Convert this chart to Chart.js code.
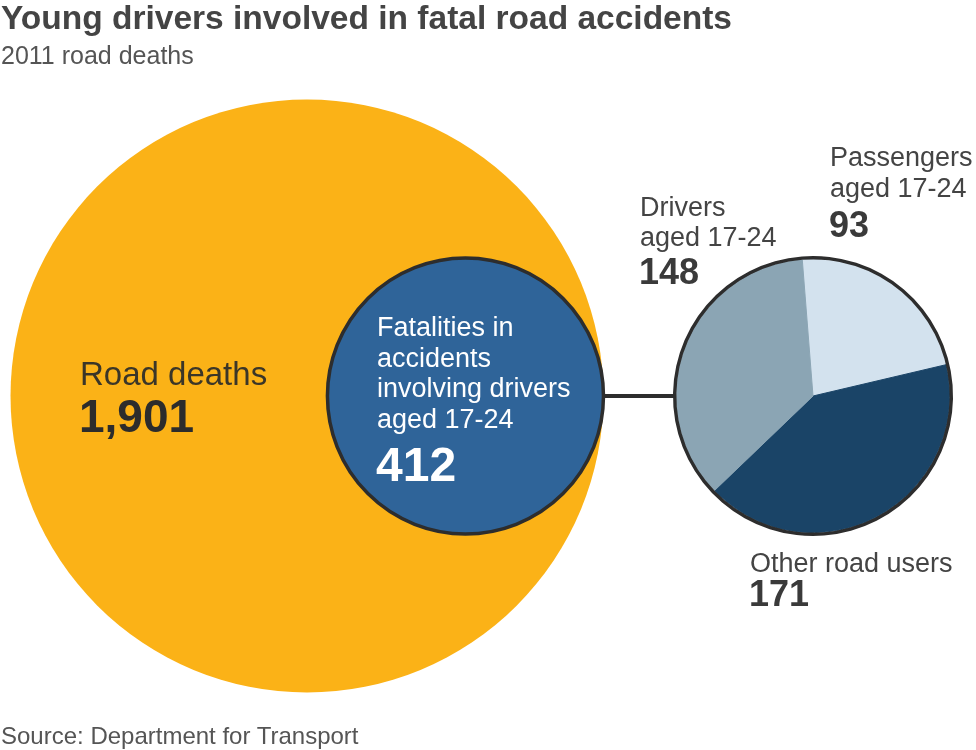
<!DOCTYPE html>
<html>
<head>
<meta charset="utf-8">
<title>Young drivers involved in fatal road accidents</title>
<script src="https://cdn.jsdelivr.net/npm/chart.js@4.4.1/dist/chart.umd.min.js"></script>
<style>
body { margin: 0; background: #fff; font-family: "Liberation Sans", Arial, sans-serif; }
#page { position: relative; width: 976px; height: 750px; overflow: hidden; }
#venn { position: absolute; left: 0; top: 0; }
#pieBox { position: absolute; }
.txt { position: absolute; white-space: nowrap; color: #444; }
.num { font-weight: bold; color: #3a3a3a; }
</style>
</head>
<body>
<div id="page">
  <canvas id="venn" width="976" height="750"></canvas>
  <div id="pieBox"><canvas id="pie" width="340" height="340"></canvas></div>

  <div class="txt" style="left:1px;top:1px;font-size:33.5px;line-height:33px;font-weight:bold;color:#444">Young drivers involved in fatal road accidents</div>
  <div class="txt" style="left:1px;top:43px;font-size:25px;line-height:25px;color:#555">2011 road deaths</div>

  <div class="txt" style="left:80px;top:357px;font-size:33px;line-height:33px;color:#3b3628">Road deaths</div>
  <div class="txt num" style="left:79px;top:393px;font-size:46px;line-height:46px;color:#2c2c2c">1,901</div>

  <div class="txt" style="left:377px;top:312px;font-size:27px;line-height:30.5px;color:#fff">Fatalities in<br>accidents<br>involving drivers<br>aged 17-24</div>
  <div class="txt num" style="left:376px;top:441px;font-size:48px;line-height:48px;color:#fff">412</div>

  <div class="txt" style="left:640px;top:192px;font-size:27px;line-height:30px">Drivers<br>aged 17-24</div>
  <div class="txt num" style="left:639px;top:254px;font-size:36px;line-height:36px">148</div>

  <div class="txt" style="left:830px;top:142px;font-size:27px;line-height:31px">Passengers<br>aged 17-24</div>
  <div class="txt num" style="left:829px;top:207px;font-size:36px;line-height:36px">93</div>

  <div class="txt" style="left:750px;top:550px;font-size:27px;line-height:27px">Other road users</div>
  <div class="txt num" style="left:749px;top:576px;font-size:36px;line-height:36px">171</div>

  <div class="txt" style="left:1px;top:724px;font-size:24px;line-height:24px;color:#555">Source: Department for Transport</div>
</div>
<script>
// data
var circleLabels = ['Road deaths', 'Fatalities in accidents involving drivers aged 17-24'];
var circleValues = [1901, 412];
var pieLabels = ['Passengers aged 17-24', 'Other road users', 'Drivers aged 17-24'];
var pieValues = [93, 171, 148];

// layout: circle areas are proportional to deaths
var W = 976, H = 750;
var K = 6.8;              // pixels per sqrt(death), same for both axes
var CX = 307, CY = 396;   // centre of the big circle
var GAP = 71;             // length of the connector

var rootBig = Math.sqrt(circleValues[0]);
var rootSmall = Math.sqrt(circleValues[1]);
var pieTotal = pieValues.reduce(function(a, b){ return a + b; }, 0);

var venn = new Chart(document.getElementById('venn'), {
    type: 'bubble',
    data: {
        datasets: [{
            label: 'Road deaths',
            data: circleValues.map(function(v, i){
                // small circle sits inside the big one, touching its right edge
                return {x: i == 0 ? 0 : rootBig - Math.sqrt(v), y: 0, r: Math.sqrt(v) * K};
            }),
            backgroundColor: ['#fbb217', '#2f6499'],
            borderColor: ['#fbb217', '#2d2d2d'],
            borderWidth: [0, 3.5],
            clip: false
        }, {
            type: 'line',
            label: 'link',
            data: [{x: rootBig, y: 0}, {x: rootBig + GAP / K, y: 0}],
            borderColor: '#2d2d2d',
            borderWidth: 4,
            pointRadius: 0,
            fill: false
        }]
    },
    options: {
        responsive: false,
        animation: false,
        events: [],
        layout: {padding: 0, autoPadding: false},
        scales: {
            x: {type: 'linear', display: false, min: -CX / K, max: (W - CX) / K},
            y: {type: 'linear', display: false, min: -(H - CY) / K, max: CY / K}
        },
        plugins: {legend: {display: false}, tooltip: {enabled: false}}
    }
});

// place the pie at the end of the connector
var pieCx = CX + rootBig * K + GAP + rootSmall * K;
var box = document.getElementById('pieBox');
box.style.left = (pieCx - 170) + 'px';
box.style.top = (CY - 170) + 'px';

var pieColors = ['#d3e2ee', '#1a4467', '#8ba5b4'];

var pie = new Chart(document.getElementById('pie'), {
    type: 'pie',
    data: {
        labels: pieLabels,
        datasets: [{
            label: 'outline',
            data: [pieTotal],
            backgroundColor: '#2d2d2d',
            borderWidth: 0,
            weight: 0.025
        }, {
            label: 'Fatalities in accidents involving drivers aged 17-24',
            data: pieValues,
            backgroundColor: pieColors,
            borderColor: pieColors,
            borderWidth: 1,
            weight: 1
        }]
    },
    options: {
        responsive: false,
        animation: false,
        events: [],
        rotation: -4.5,
        radius: Math.sqrt(pieTotal) * K + 2,
        layout: {padding: 0},
        plugins: {legend: {display: false}, tooltip: {enabled: false}}
    }
});
</script>
</body>
</html>
